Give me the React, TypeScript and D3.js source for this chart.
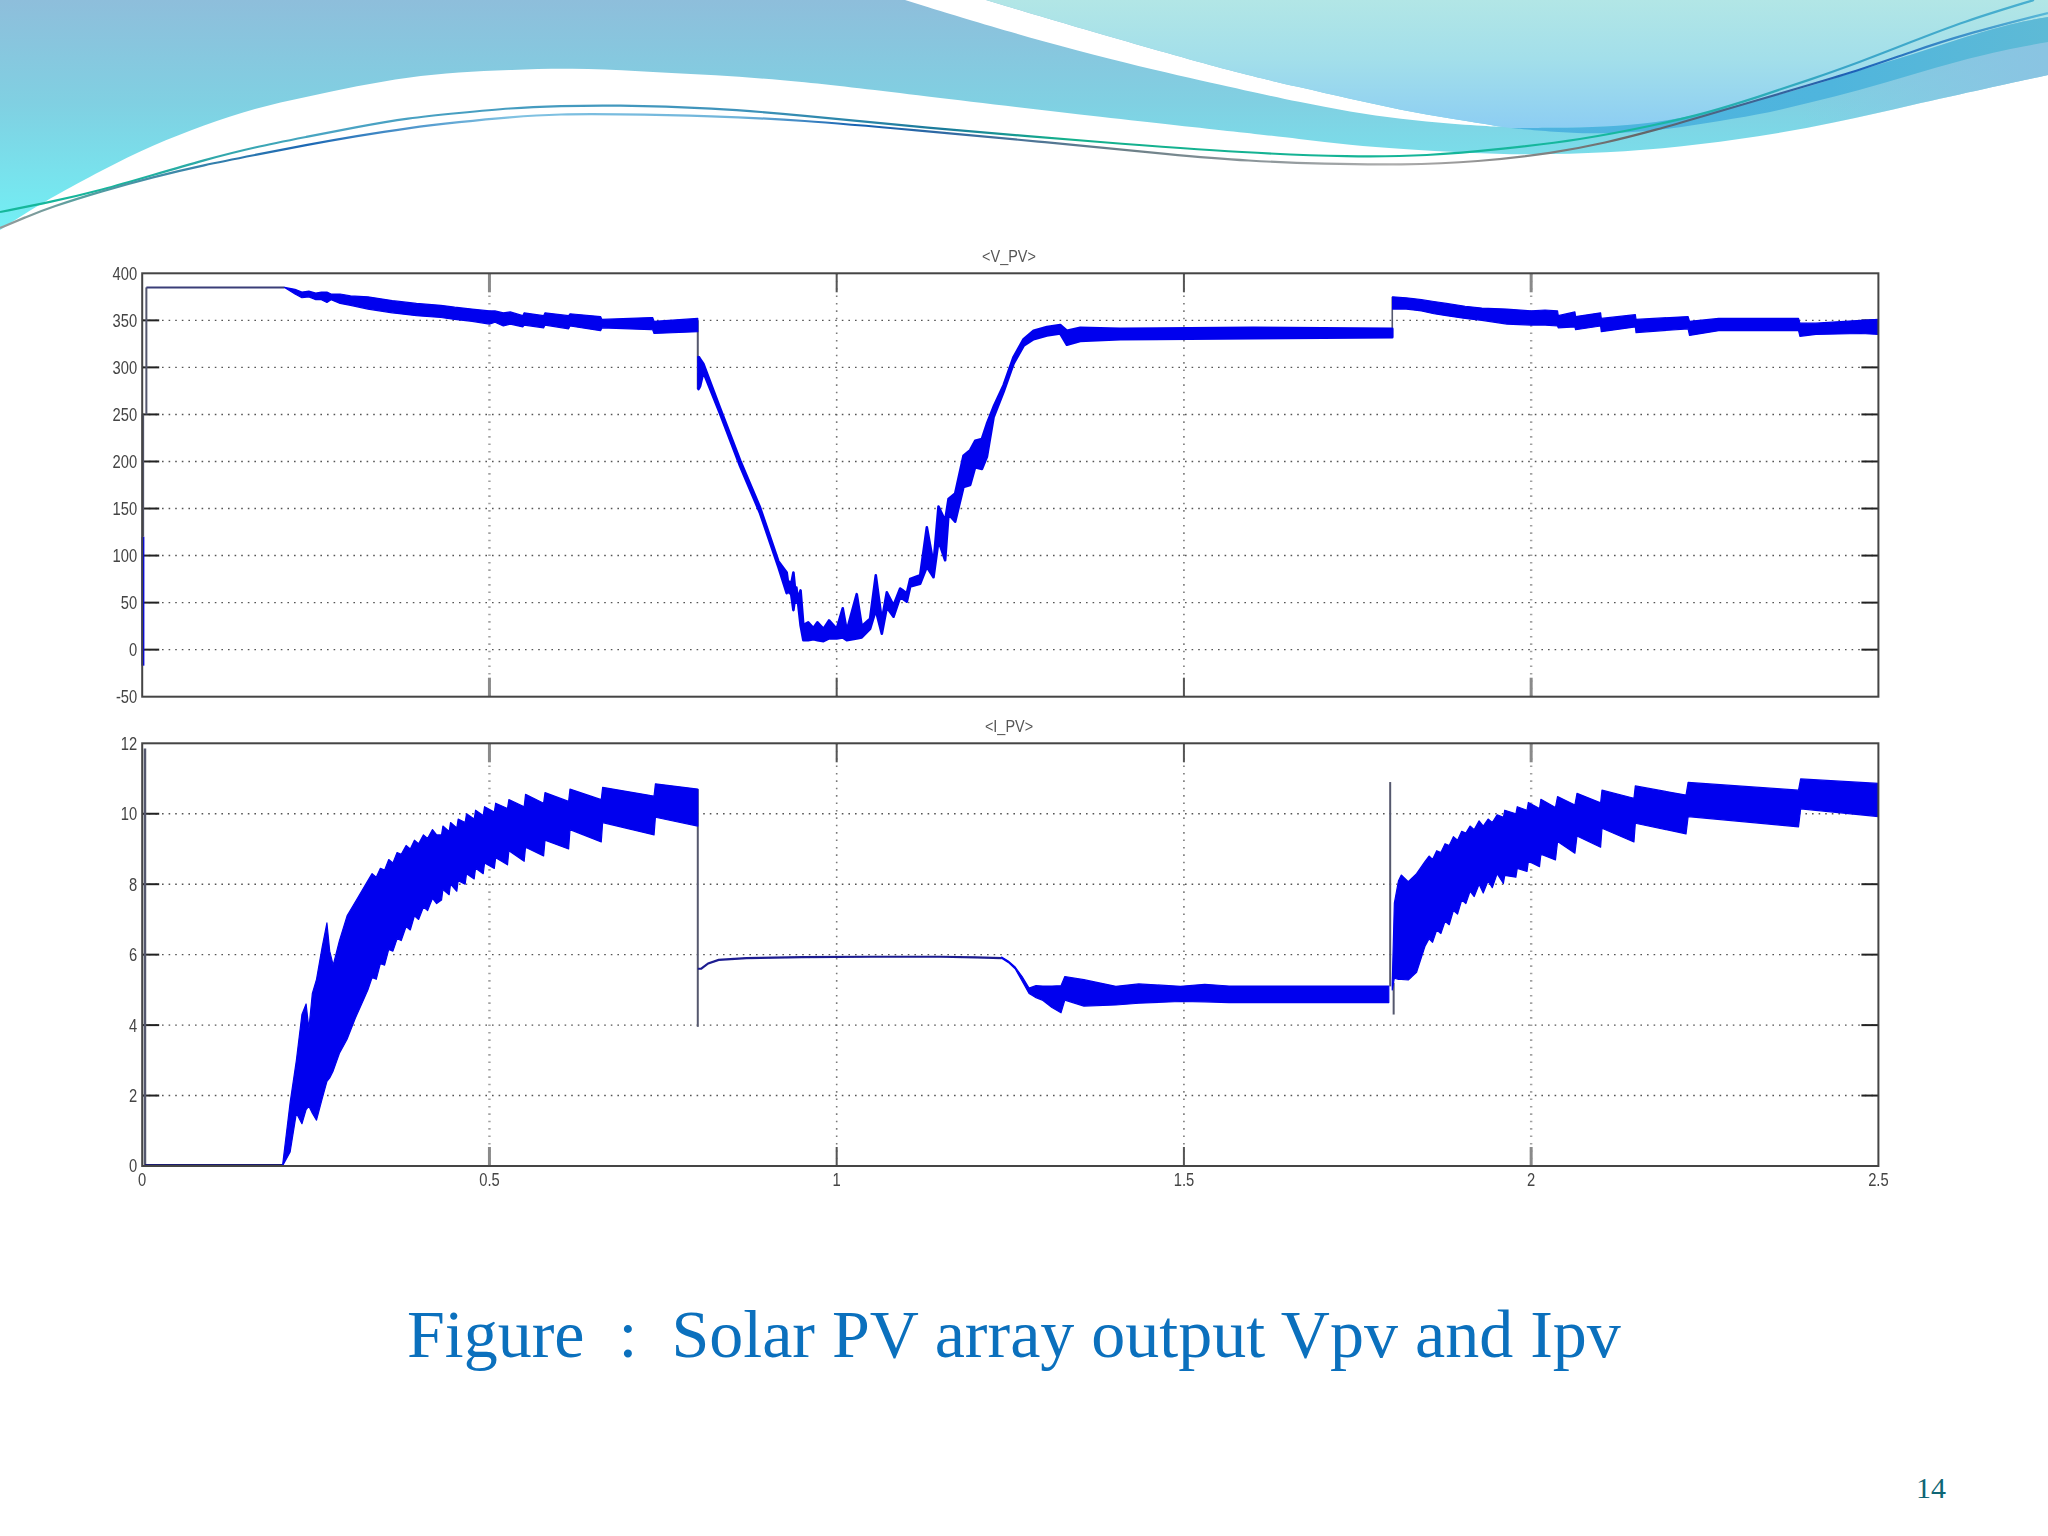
import * as d3 from "d3";

// time axis shared by both scopes
const timeTicks = [0, 0.5, 1, 1.5, 2, 2.5];
const voltageTicks = [-50, 0, 50, 100, 150, 200, 250, 300, 350, 400];
const currentTicks = [0, 2, 4, 6, 8, 10, 12];

// <V_PV> envelope
const vDecayTime = [0.205, 0.22, 0.23, 0.24, 0.25, 0.258, 0.266, 0.272, 0.285, 0.3, 0.325, 0.36, 0.395, 0.43, 0.45, 0.475, 0.5, 0.508, 0.52, 0.53, 0.548, 0.55, 0.578, 0.58, 0.614, 0.616, 0.66, 0.662, 0.735, 0.737, 0.8];
const vDecayHigh = [385, 383, 380, 381, 379, 380, 380, 378, 378, 376, 375, 371, 368, 366, 364, 362, 360, 360, 358, 359, 355, 358, 355, 358, 355, 357, 354, 351, 353, 349, 352];
const vDecayLow = [385, 378, 374, 375, 372, 372, 369, 372, 368, 366, 362, 358, 355, 353, 351, 349, 346, 348, 344, 346, 343, 345, 342, 345, 341, 344, 339, 342, 340, 336, 338];

const vDipTime = [0.801, 0.8033, 0.808, 0.832, 0.861, 0.8897, 0.916, 0.928, 0.932, 0.9377, 0.942, 0.948, 0.952, 0.959, 0.9665, 0.9723, 0.981, 0.989, 1.0, 1.0087, 1.0145, 1.0289, 1.0361, 1.0481, 1.0563, 1.065, 1.0722, 1.0818, 1.0914, 1.101, 1.1058, 1.1202, 1.1298, 1.1394, 1.1466, 1.1562, 1.161, 1.1706, 1.1826, 1.1922, 1.1994, 1.2091, 1.2163, 1.2259, 1.2403, 1.2547, 1.2691, 1.2835, 1.3027, 1.3219, 1.3315, 1.3507, 1.4083, 1.6, 1.8];
const vDipHigh = [311, 309, 304, 257, 201, 151, 94, 82, 60, 82, 50, 63, 26, 29, 23, 29, 22, 31, 22, 44, 20, 59, 25, 33, 79, 31, 61, 47, 65, 60, 75, 79, 130, 91, 152, 137, 160, 166, 206, 212, 222, 224, 240, 258, 281, 311, 330, 339, 343, 345, 339, 342, 341, 342, 341];
const vDipLow = [277, 280, 295, 251, 195, 145, 88, 60, 72, 42, 66, 26, 10, 10, 11, 10, 9, 12, 12, 13, 10, 12, 13, 22, 42, 17, 45, 35, 56, 51, 67, 70, 88, 77, 116, 95, 144, 136, 173, 175, 194, 192, 205, 247, 274, 304, 323, 330, 334, 336, 324, 328, 330, 331, 332];

const vRecoverTime = [1.8005, 1.82, 1.842, 1.86, 1.878, 1.905, 1.929, 1.965, 2.0, 2.02, 2.038, 2.039, 2.063, 2.064, 2.1, 2.101, 2.15, 2.151, 2.226, 2.228, 2.27, 2.385, 2.387, 2.41, 2.475, 2.5];
const vRecoverHigh = [375, 374, 372, 370, 368, 365, 363, 362, 360, 361, 360, 355, 359, 354, 358, 352, 356, 351, 354, 349, 352, 352, 347, 347, 350, 351];
const vRecoverLow = [362, 362, 360, 357, 355, 352, 350, 346, 345, 345, 344, 342, 343, 340, 344, 338, 343, 337, 341, 334, 339, 339, 333, 335, 336, 335];

// <I_PV> envelope
const iRiseTime = [0.202, 0.213, 0.222, 0.23, 0.236, 0.24, 0.245, 0.251, 0.259, 0.266, 0.27, 0.275, 0.284, 0.295, 0.307, 0.325, 0.331, 0.337, 0.343, 0.349, 0.355, 0.361, 0.367, 0.373, 0.38, 0.386, 0.392, 0.398, 0.405, 0.411, 0.418, 0.424, 0.431, 0.433, 0.442, 0.444, 0.453, 0.455, 0.465, 0.467, 0.478, 0.48, 0.491, 0.493, 0.507, 0.509, 0.526, 0.528, 0.55, 0.552, 0.578, 0.58, 0.614, 0.616, 0.661, 0.663, 0.737, 0.739, 0.8];
const iRiseHigh = [0, 1.8, 3, 4.3, 4.6, 3.9, 4.9, 5.3, 6.2, 6.9, 6.1, 5.7, 6.4, 7.1, 7.5, 8.1, 8.3, 8.2, 8.45, 8.4, 8.7, 8.6, 8.9, 8.85, 9.1, 9, 9.25, 9.15, 9.4, 9.3, 9.55, 9.4, 9.4, 9.65, 9.5, 9.75, 9.6, 9.85, 9.75, 10, 9.85, 10.1, 9.95, 10.2, 10.05, 10.3, 10.15, 10.4, 10.2, 10.55, 10.3, 10.6, 10.35, 10.7, 10.4, 10.75, 10.5, 10.85, 10.7];
const iRiseLow = [0, 0.4, 1.5, 1.2, 1.6, 1.7, 1.5, 1.3, 1.9, 2.4, 2.5, 2.7, 3.2, 3.6, 4.2, 5, 5.35, 5.3, 5.75, 5.7, 6.15, 6.1, 6.45, 6.4, 6.8, 6.7, 7.1, 7, 7.35, 7.25, 7.6, 7.45, 7.55, 7.85, 7.7, 8, 7.8, 8.1, 8, 8.3, 8.15, 8.45, 8.3, 8.6, 8.45, 8.75, 8.55, 8.95, 8.65, 9.05, 8.8, 9.25, 9, 9.55, 9.2, 9.75, 9.4, 9.9, 9.65];

const iPlateauTime = [0.8, 0.805, 0.815, 0.83, 0.87, 0.95, 1.05, 1.15, 1.2, 1.2375];
const iPlateauValue = [5.6, 5.6, 5.75, 5.85, 5.9, 5.93, 5.94, 5.94, 5.92, 5.9];

const iBandTime = [1.2375, 1.247, 1.257, 1.267, 1.277, 1.287, 1.297, 1.31, 1.323, 1.3285, 1.356, 1.402, 1.435, 1.495, 1.53, 1.565, 1.795];
const iBandHigh = [5.93, 5.82, 5.65, 5.38, 5.05, 5.12, 5.11, 5.11, 5.12, 5.38, 5.29, 5.1, 5.17, 5.1, 5.16, 5.11, 5.11];
const iBandLow = [5.9, 5.78, 5.6, 5.25, 4.9, 4.78, 4.7, 4.5, 4.35, 4.71, 4.54, 4.57, 4.62, 4.67, 4.66, 4.64, 4.64];

const iReRiseTime = [1.8, 1.803, 1.809, 1.813, 1.823, 1.835, 1.847, 1.853, 1.858, 1.864, 1.87, 1.876, 1.882, 1.888, 1.894, 1.9, 1.906, 1.912, 1.918, 1.925, 1.931, 1.938, 1.944, 1.951, 1.96, 1.962, 1.978, 1.98, 1.994, 1.996, 2.012, 2.014, 2.035, 2.038, 2.063, 2.066, 2.1, 2.102, 2.148, 2.15, 2.223, 2.226, 2.385, 2.388, 2.5];
const iReRiseHigh = [5.2, 7.46, 8.1, 8.26, 8.07, 8.3, 8.64, 8.8, 8.7, 8.95, 8.9, 9.15, 9.1, 9.35, 9.25, 9.5, 9.45, 9.65, 9.55, 9.8, 9.65, 9.85, 9.75, 9.97, 9.9, 10.1, 10, 10.2, 10.1, 10.32, 10.15, 10.41, 10.18, 10.49, 10.25, 10.58, 10.31, 10.67, 10.44, 10.79, 10.53, 10.89, 10.67, 10.99, 10.86];
const iReRiseLow = [5, 5.33, 5.3, 5.3, 5.28, 5.5, 6.23, 6.45, 6.35, 6.7, 6.6, 6.95, 6.85, 7.25, 7.15, 7.55, 7.45, 7.8, 7.65, 8, 7.75, 8.1, 7.9, 8.3, 8.02, 8.25, 8.2, 8.45, 8.36, 8.65, 8.5, 8.85, 8.69, 9.21, 8.88, 9.37, 9.05, 9.59, 9.2, 9.73, 9.43, 9.92, 9.63, 10.14, 9.92];

// thin switching transients: time, from, to
const vSpikeTime = [0.001, 0.001, 0.006, 0.8, 0.802, 1.8];
const vSpikeFrom = [-17, 120, 250, 350, 277, 332];
const vSpikeTo = [120, 250, 385, 277, 312, 375];
const vSpikeThick = [3, 2.5, 2, 2, 2, 1.6];
const iSpikeTime = [0.004, 0.8, 1.797, 1.802];
const iSpikeFrom = [0, 3.95, 5.1, 4.3];
const iSpikeTo = [11.85, 10.7, 10.9, 5.2];

const vFlatTime = [0.006, 0.205];
const vFlatValue = [385, 385];
const iZeroTime = [0.004, 0.202];
const iZeroValue = [0.02, 0.02];

const LEFT = 142.2;
const RIGHT = 1878.4;
const V_BOX = { top: 273.3, bottom: 696.7 };
const I_BOX = { top: 743.3, bottom: 1166 };
const TRACE = "#0303ee";
const LABEL_FONT = "'Liberation Sans', sans-serif";

const x = d3.scaleLinear().domain([0, 2.5]).range([LEFT, RIGHT]);
const yV = d3.scaleLinear().domain([-50, 400]).range([V_BOX.bottom, V_BOX.top]);
const yI = d3.scaleLinear().domain([0, 12]).range([I_BOX.bottom, I_BOX.top]);

// header artwork outlines, in slide pixels
const artLine = d3
  .line<number[]>()
  .x((d) => d[0])
  .y((d) => d[1])
  .curve(d3.curveBasis);

const waveEdge = [[0, 230], [26, 213], [51, 198], [102, 170], [153, 145], [204, 125], [255, 108], [306, 97], [357, 86], [408, 77], [459, 72], [510, 70], [571, 68], [638, 71], [714, 75], [800, 81], [914, 95], [1110, 118], [1248, 133], [1299, 139], [1350, 145], [1401, 149], [1467, 153], [1534, 155], [1605, 153], [1682, 147], [1758, 137], [1835, 123], [1911, 105], [1988, 88], [2048, 75]];
const sliverEdge = [[905, 0], [1045, 43], [1175, 75], [1248, 91], [1299, 102], [1350, 112], [1401, 119], [1452, 124], [1503, 127]];
const paleLeft = [[986, 0], [1110, 37], [1241, 74], [1299, 87], [1350, 99], [1401, 110], [1452, 119], [1503, 127]];
const paleBottom = [[1511, 128], [1554, 128], [1605, 127], [1656, 123], [1707, 113], [1758, 100], [1809, 87], [1860, 70], [1911, 55], [1962, 38], [2013, 23], [2048, 17]];
const bandBottom = [[1511, 128], [1554, 132], [1595, 134], [1656, 131], [1707, 123], [1758, 115], [1809, 103], [1860, 90], [1911, 75], [1962, 60], [2013, 48], [2048, 42]];
const ribbonTop = [[0, 212], [51, 202], [102, 190], [153, 175], [204, 160], [255, 147], [306, 137], [357, 127], [408, 118], [459, 113], [510, 108], [561, 106], [612, 105], [714, 108], [800, 115], [914, 127], [1110, 143], [1248, 153], [1350, 157], [1427, 156], [1503, 149], [1580, 140], [1656, 125], [1707, 113], [1758, 97], [1809, 80], [1860, 62], [1911, 42], [1962, 22], [2034, 0]];
const ribbonBottom = [[0, 228], [26, 217], [51, 207], [102, 191], [153, 177], [204, 165], [255, 155], [306, 145], [357, 136], [408, 128], [459, 122], [510, 117], [561, 114], [612, 114], [714, 116], [800, 120], [914, 130], [1045, 142], [1175, 155], [1248, 161], [1325, 164], [1401, 165], [1478, 162], [1554, 153], [1605, 143], [1656, 130], [1707, 115], [1758, 100], [1809, 85], [1860, 70], [1911, 52], [1962, 35], [2048, 13]];

const join = (a: number[][], b: number[][]) => `${artLine(a)}L${(artLine(b) as string).slice(1)}`;
const rev = (a: number[][]) => [...a].reverse();

function Envelope({
  time,
  high,
  low,
  y,
  edge = 1.2,
}: {
  time: number[];
  high: number[];
  low: number[];
  y: d3.ScaleLinear<number, number>;
  edge?: number;
}) {
  const area = d3
    .area<number>()
    .x((t) => x(t))
    .y0((_, i) => y(low[i]))
    .y1((_, i) => y(high[i]));
  return <path d={area(time) as string} fill={TRACE} stroke={TRACE} strokeWidth={edge} strokeLinejoin="round" />;
}

function Trace({ time, value, y, color, width }: { time: number[]; value: number[]; y: d3.ScaleLinear<number, number>; color: string; width: number }) {
  const line = d3
    .line<number>()
    .x((t) => x(t))
    .y((_, i) => y(value[i]));
  return <path d={line(time) as string} fill="none" stroke={color} strokeWidth={width} />;
}

function Label({ px, py, anchor, children }: { px: number; py: number; anchor: "end" | "middle"; children: React.ReactNode }) {
  // the scope screenshot has squeezed digits
  return (
    <text transform={`translate(${px},${py}) scale(0.82,1)`} dy="0.36em" textAnchor={anchor} fontFamily={LABEL_FONT} fontSize={18} fill="#444">
      {children}
    </text>
  );
}

function Scope({
  title,
  box,
  y,
  ticks,
  showTimeLabels,
  children,
}: {
  title: string;
  box: { top: number; bottom: number };
  y: d3.ScaleLinear<number, number>;
  ticks: number[];
  showTimeLabels: boolean;
  children: React.ReactNode;
}) {
  const inner = timeTicks.slice(1, -1);
  return (
    <g filter="url(#soft)">
      <text transform={`translate(1009,${box.top - 17}) scale(0.85,1)`} dy="0.36em" textAnchor="middle" fontFamily={LABEL_FONT} fontSize={17} fill="#555">
        {title}
      </text>
      {ticks.slice(1, -1).map((t) => (
        <line key={t} x1={LEFT} x2={RIGHT} y1={y(t)} y2={y(t)} stroke="#555" strokeWidth={1.4} strokeDasharray="1.6 5" />
      ))}
      {inner.map((t) => {
        const soft = t === 0.5 || t === 2;
        return (
          <g key={t} stroke={soft ? "#8a8a8a" : "#555"}>
            <line x1={x(t)} x2={x(t)} y1={box.top} y2={box.bottom} strokeWidth={soft ? 2.4 : 1.6} strokeDasharray="1.6 5.8" opacity={0.8} />
            <line x1={x(t)} x2={x(t)} y1={box.top} y2={box.top + 19} strokeWidth={soft ? 3 : 2} />
            <line x1={x(t)} x2={x(t)} y1={box.bottom} y2={box.bottom - 19} strokeWidth={soft ? 3 : 2} />
          </g>
        );
      })}
      {ticks.slice(1, -1).map((t) => (
        <g key={t} stroke="#222" strokeWidth={2}>
          <line x1={LEFT} x2={LEFT + 17} y1={y(t)} y2={y(t)} />
          <line x1={RIGHT} x2={RIGHT - 17} y1={y(t)} y2={y(t)} />
        </g>
      ))}
      {children}
      <rect x={LEFT} y={box.top} width={RIGHT - LEFT} height={box.bottom - box.top} fill="none" stroke="#444" strokeWidth={2} />
      {ticks.map((t) => (
        <Label key={t} px={LEFT - 5} py={y(t)} anchor="end">
          {t}
        </Label>
      ))}
      {showTimeLabels &&
        timeTicks.map((t) => (
          <Label key={t} px={x(t)} py={box.bottom + 14} anchor="middle">
            {t}
          </Label>
        ))}
    </g>
  );
}

function Spikes({ time, from, to, y, widths }: { time: number[]; from: number[]; to: number[]; y: d3.ScaleLinear<number, number>; widths: number[] }) {
  return (
    <g>
      {time.map((t, i) => (
        <line key={i} x1={x(t)} x2={x(t)} y1={y(from[i])} y2={y(to[i])} stroke={from[i] < 100 && widths[i] === 3 ? TRACE : "#55586e"} strokeWidth={widths[i]} />
      ))}
    </g>
  );
}

export default function App() {
  return (
    <svg width={2048} height={1536} viewBox="0 0 2048 1536" style={{ position: "absolute", left: 0, top: 0, background: "#fff" }}>
      <defs>
        <filter id="soft" x="-2%" y="-5%" width="104%" height="110%">
          <feGaussianBlur stdDeviation="0.45" />
        </filter>
        <linearGradient id="waveFill" x1="0" x2="0" y1="0" y2="230" gradientUnits="userSpaceOnUse">
          <stop offset="0" stopColor="#8ebedb" />
          <stop offset="0.45" stopColor="#80d0e2" />
          <stop offset="1" stopColor="#72f0f5" />
        </linearGradient>
        <linearGradient id="paleFill" x1="0" x2="0" y1="0" y2="130" gradientUnits="userSpaceOnUse">
          <stop offset="0" stopColor="#b2e6e6" />
          <stop offset="0.45" stopColor="#a3dfea" />
          <stop offset="1" stopColor="#8ccdf3" />
        </linearGradient>
        <linearGradient id="cornerFill" x1="1800" x2="2048" y1="0" y2="0" gradientUnits="userSpaceOnUse">
          <stop offset="0" stopColor="#86c8e6" stopOpacity="0" />
          <stop offset="1" stopColor="#8ac4e2" />
        </linearGradient>
        <linearGradient id="bandFill" x1="1500" x2="2048" y1="0" y2="0" gradientUnits="userSpaceOnUse">
          <stop offset="0" stopColor="#4db3e0" />
          <stop offset="0.6" stopColor="#4fb5dd" />
          <stop offset="1" stopColor="#5ebad6" />
        </linearGradient>
        <linearGradient id="ribbonA" x1="0" x2="2048" y1="0" y2="0" gradientUnits="userSpaceOnUse">
          <stop offset="0" stopColor="#15b89a" />
          <stop offset="0.06" stopColor="#18b49c" />
          <stop offset="0.1" stopColor="#2ea8a8" />
          <stop offset="0.16" stopColor="#4ba4c4" />
          <stop offset="0.36" stopColor="#3f93bb" />
          <stop offset="0.46" stopColor="#1a7a9a" />
          <stop offset="0.52" stopColor="#14b08c" />
          <stop offset="0.8" stopColor="#16b8a0" />
          <stop offset="0.9" stopColor="#3aa5c8" />
          <stop offset="1" stopColor="#4ab0d0" />
        </linearGradient>
        <linearGradient id="ribbonB" x1="0" x2="2048" y1="0" y2="0" gradientUnits="userSpaceOnUse">
          <stop offset="0" stopColor="#999" />
          <stop offset="0.04" stopColor="#55a0a0" />
          <stop offset="0.15" stopColor="#1c68b4" />
          <stop offset="0.25" stopColor="#80c2e2" />
          <stop offset="0.36" stopColor="#6fb4da" />
          <stop offset="0.42" stopColor="#1560b0" />
          <stop offset="0.55" stopColor="#6c8088" />
          <stop offset="0.68" stopColor="#adadad" />
          <stop offset="0.8" stopColor="#666" />
          <stop offset="0.905" stopColor="#1c60b8" />
          <stop offset="1" stopColor="#58b8d8" />
        </linearGradient>
      </defs>

      <path d={`${artLine(waveEdge)}L2048,0L0,0Z`} fill="url(#waveFill)" />
      <path d={`${artLine(waveEdge.slice(-6))}L2048,42L${(artLine(rev(bandBottom.slice(-6))) as string).slice(1)}Z`} fill="url(#cornerFill)" />
      <path d={`${join(sliverEdge, rev(paleLeft))}Z`} fill="#fff" />
      <path d={`${artLine(paleLeft)}L${(artLine(paleBottom) as string).slice(1)}L2048,0Z`} fill="url(#paleFill)" />
      <path d={`${join(paleBottom, rev(bandBottom))}Z`} fill="url(#bandFill)" />
      <path d={artLine(ribbonTop) as string} fill="none" stroke="url(#ribbonA)" strokeWidth={2.2} />
      <path d={artLine(ribbonBottom) as string} fill="none" stroke="url(#ribbonB)" strokeWidth={2.2} />

      <Scope title="<V_PV>" box={V_BOX} y={yV} ticks={voltageTicks} showTimeLabels={false}>
        <Spikes time={vSpikeTime} from={vSpikeFrom} to={vSpikeTo} y={yV} widths={vSpikeThick} />
        <Trace time={vFlatTime} value={vFlatValue} y={yV} color="#3a3d78" width={2} />
        <Envelope time={vDecayTime} high={vDecayHigh} low={vDecayLow} y={yV} />
        <Envelope time={vDipTime} high={vDipHigh} low={vDipLow} y={yV} edge={2.6} />
        <Envelope time={vRecoverTime} high={vRecoverHigh} low={vRecoverLow} y={yV} />
      </Scope>

      <Scope title="<I_PV>" box={I_BOX} y={yI} ticks={currentTicks} showTimeLabels={true}>
        <Spikes time={iSpikeTime} from={iSpikeFrom} to={iSpikeTo} y={yI} widths={[2.5, 2, 2, 2]} />
        <Trace time={iZeroTime} value={iZeroValue} y={yI} color="#1a1a70" width={2.5} />
        <Envelope time={iRiseTime} high={iRiseHigh} low={iRiseLow} y={yI} />
        <Trace time={iPlateauTime} value={iPlateauValue} y={yI} color="#1c1c90" width={2.2} />
        <Envelope time={iBandTime} high={iBandHigh} low={iBandLow} y={yI} />
        <Envelope time={iReRiseTime} high={iReRiseHigh} low={iReRiseLow} y={yI} />
      </Scope>

      <text x={407} y={1357} fontFamily="'Liberation Serif', serif" fontSize={68} fill="#0b70bd" style={{ whiteSpace: "pre" }}>
        {"Figure  :  Solar PV array output Vpv and Ipv"}
      </text>
      <text x={1916} y={1498} fontFamily="'Liberation Serif', serif" fontSize={30} fill="#0f6675">
        14
      </text>
    </svg>
  );
}
